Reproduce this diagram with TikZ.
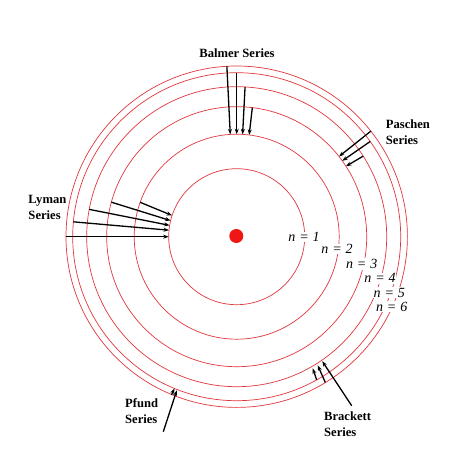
\documentclass[tikz,border=0pt]{standalone}
\usepackage{fontspec}
\setmainfont{Liberation Serif}
\usetikzlibrary{arrows.meta}
\definecolor{orbit}{RGB}{225,55,60}
\definecolor{nuc}{RGB}{240,22,22}
\tikzset{
  orbitline/.style={draw=orbit, line width=0.7pt},
  trans/.style={draw=black, line width=1.3pt, -{Stealth[length=5.5pt,width=4pt]}},
  serieslabel/.style={font=\bfseries\fontsize{12.6}{16}\selectfont, align=left, inner sep=0pt},
  nlabel/.style={font=\itshape\fontsize{14}{14}\selectfont, fill=white, inner sep=0.8pt},
}
\newcommand{\nlev}[1]{n\hspace{0.28em}=\hspace{0.28em}#1}
\begin{document}
\begin{tikzpicture}[x=1pt,y=1pt]
\fill[white] (-236.7,-237.3) rectangle (237.3,236.7);
\useasboundingbox (-236.7,-237.3) rectangle (237.3,236.7);
% orbits
\foreach \r in {68,102.5,130,150,164,170.7}
  \draw[orbitline] (0,0) circle[radius=\r pt];
% nucleus
\node[circle, fill=nuc, minimum size=14pt, inner sep=0pt] (nucleus) at (-0.4,0.7) {};
% level labels
\node[nlabel] (n1) at (67.3,-0.3) {\nlev{1}};
\node[nlabel] (n2) at (100.3,-12.3) {\nlev{2}};
\node[nlabel] (n3) at (125,-27.3) {\nlev{3}};
\node[nlabel] (n4) at (143.3,-41.6) {\nlev{4}};
\node[nlabel] (n5) at (152.6,-56) {\nlev{5}};
\node[nlabel] (n6) at (155,-70) {\nlev{6}};
% Balmer
\coordinate (b1s) at (93.3:170.7pt); \coordinate (b1e) at (93.6:102.5pt);
\coordinate (b2s) at (90:164pt);     \coordinate (b2e) at (90:102.5pt);
\coordinate (b3s) at (86.8:150pt);   \coordinate (b3e) at (86.7:102.5pt);
\coordinate (b4s) at (83.1:130pt);   \coordinate (b4e) at (83:102.5pt);
\draw[trans] (b1s) -- (b1e);
\draw[trans] (b2s) -- (b2e);
\draw[trans] (b3s) -- (b3e);
\draw[trans] (b4s) -- (b4e);
% Paschen
\coordinate (p1s) at (38.2:170.7pt); \coordinate (p1e) at (38.1:130pt);
\coordinate (p2s) at (35.5:164pt);   \coordinate (p2e) at (35.7:130pt);
\coordinate (p3s) at (32.5:150pt);   \coordinate (p3e) at (32.8:130pt);
\draw[trans] (p1s) -- (p1e);
\draw[trans] (p2s) -- (p2e);
\draw[trans] (p3s) -- (p3e);
% Lyman
\coordinate (l1s) at (160.4:102.5pt); \coordinate (l1e) at (161.8:68pt);
\coordinate (l2s) at (164.6:130pt);   \coordinate (l2e) at (166.3:68pt);
\coordinate (l3s) at (169.5:150pt);   \coordinate (l3e) at (170.4:68pt);
\coordinate (l4s) at (174.8:164pt);   \coordinate (l4e) at (174.5:68pt);
\coordinate (l5s) at (180:170.7pt);   \coordinate (l5e) at (180:68pt);
\draw[trans] (l1s) -- (l1e);
\draw[trans] (l2s) -- (l2e);
\draw[trans] (l3s) -- (l3e);
\draw[trans] (l4s) -- (l4e);
\draw[trans] (l5s) -- (l5e);
% Brackett
\coordinate (k1s) at (-60.8:164pt);   \coordinate (k1e) at (-60:152pt);
\coordinate (k2s) at (-58.7:170.7pt); \coordinate (k2e) at (-57.8:152pt);
\coordinate (k3s) at (115,-169);      \coordinate (k3e) at (-55.5:151pt);
\draw[trans] (k1s) -- (k1e);
\draw[trans] (k2s) -- (k2e);
\draw[trans] (k3s) -- (k3e);
% Pfund
\coordinate (f1s) at (247.6:171pt);   \coordinate (f1e) at (247.7:164pt);
\coordinate (f2s) at (-73.4,-195);    \coordinate (f2e) at (248.7:165pt);
\draw[trans] (f1s) -- (f1e);
\draw[trans] (f2s) -- (f2e);
% series labels
\node[serieslabel] (balmer) at (0.3,184) {Balmer Series};
\node[serieslabel, anchor=west] (paschen) at (149,104.7) {Paschen\\Series};
\node[serieslabel, anchor=west] (lyman) at (-208.4,28.85) {Lyman\\Series};
\node[serieslabel, anchor=west] (pfund) at (-111.7,-174.6) {Pfund\\Series};
\node[serieslabel, anchor=west] (brackett) at (87.3,-187.3) {Brackett\\Series};
\end{tikzpicture}
\end{document}
